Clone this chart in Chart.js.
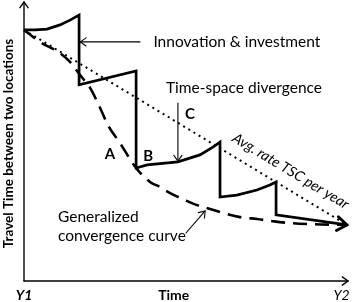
<!DOCTYPE html>
<html>
<head>
<meta charset="utf-8">
<script src="https://cdn.jsdelivr.net/npm/chart.js@4.4.1/dist/chart.umd.min.js"></script>
<style>
  html, body { margin: 0; padding: 0; background: #fff; }
  #wrap { width: 353px; height: 302px; }
</style>
</head>
<body>
<div id="wrap"><canvas id="tscChart" width="353" height="302"></canvas></div>
<script>
// time runs 0..100 from Y1 to Y2, travel time 0..100 (arbitrary units)
const tickLabels = ['Y1', 'Y2'];

// saw-tooth: travel time rises with congestion, drops after each innovation
const stepTime   = [0, 3.4, 7.1, 11.1, 14.2, 17.0, 17.0, 34.6, 34.6, 38.0, 47.5, 54.3, 58.3, 60.5, 60.5, 65.7, 71.9, 75.9, 77.8, 77.8, 99.7];
const stepTravel = [90.0, 90.0, 90.3, 91.8, 93.5, 95.3, 70.3, 75.3, 40.5, 41.6, 42.7, 45.2, 48.0, 49.8, 30.1, 30.8, 32.6, 34.4, 35.5, 23.7, 20.1];

// generalized convergence curve
const curveTime   = [0, 4.9, 11.1, 14.2, 17.3, 20.4, 23.5, 25.9, 29.6, 34.6, 38.9, 42.0, 45.1, 49.7, 53.4, 57.4, 61.4, 66.7, 71.9, 79.0, 88.3, 99.7];
const curveTravel = [90.0, 85.7, 81.7, 78.5, 73.8, 69.2, 62.0, 55.9, 49.5, 40.5, 35.5, 33.7, 31.5, 29.0, 27.2, 25.8, 24.4, 22.9, 22.2, 21.1, 20.4, 20.1];

// average rate of time-space convergence
const avgTime   = [0, 99.7];
const avgTravel = [90.0, 20.1];

const toPts = (xs, ys) => xs.map((v, i) => ({ x: v, y: ys[i] }));

function line(ctx, x1, y1, x2, y2) {
  ctx.beginPath(); ctx.moveTo(x1, y1); ctx.lineTo(x2, y2); ctx.stroke();
}
function chevron(ctx, x, y, ang, size) {
  ctx.beginPath();
  ctx.moveTo(x + size * Math.cos(ang + Math.PI - 0.62), y + size * Math.sin(ang + Math.PI - 0.62));
  ctx.lineTo(x, y);
  ctx.lineTo(x + size * Math.cos(ang + Math.PI + 0.62), y + size * Math.sin(ang + Math.PI + 0.62));
  ctx.stroke();
}

const FONT = 'Lato, "Open Sans", sans-serif';

const diagramPlugin = {
  id: 'diagram',
  afterDatasetsDraw(chart) {
    const { ctx, chartArea: a, scales } = chart;
    const X = v => scales.x.getPixelForValue(v);
    const Y = v => scales.y.getPixelForValue(v);
    ctx.save();
    ctx.strokeStyle = '#000';
    ctx.fillStyle = '#000';
    ctx.lineCap = 'round';
    ctx.lineJoin = 'miter';

    // axes with open arrow heads
    ctx.lineWidth = 1.4;
    line(ctx, a.left, a.bottom, a.left, a.top);
    line(ctx, a.left, a.bottom, a.right, a.bottom);
    chevron(ctx, a.left, a.top, -Math.PI / 2, 7);
    chevron(ctx, a.right, a.bottom, 0, 7);

    // arrow at the end of the saw-tooth line
    const n = stepTime.length;
    const ex = X(stepTime[n - 1]), ey = Y(stepTravel[n - 1]);
    const ang = Math.atan2(ey - Y(stepTravel[n - 2]), ex - X(stepTime[n - 2]));
    ctx.lineWidth = 2.8;
    chevron(ctx, ex, ey, ang, 12);

    // annotation arrows
    ctx.lineWidth = 1.1;
    line(ctx, X(35.8), Y(85.7), X(17.4), Y(85.7));
    chevron(ctx, X(17.4), Y(85.7), Math.PI, 7);
    line(ctx, X(47.5), Y(63.8), X(47.5), Y(43.0));
    chevron(ctx, X(47.5), Y(43.0), Math.PI / 2, 7);
    line(ctx, X(50.0), Y(17.2), X(55.9), Y(25.1));
    chevron(ctx, X(55.9), Y(25.1), Math.atan2(Y(25.1) - Y(17.2), X(55.9) - X(50.0)), 7);

    // labels
    ctx.textBaseline = 'middle';
    ctx.textAlign = 'center';
    ctx.font = '15.5px ' + FONT;
    ctx.fillText('Innovation & investment', X(65.7), Y(85.7));
    ctx.fillText('Time-space divergence', X(67.9), Y(69.2));
    ctx.textAlign = 'left';
    ctx.fillText('Generalized', X(10.5), Y(22.9));
    ctx.fillText('convergence curve', X(10.5), Y(16.3));

    ctx.textAlign = 'center';
    ctx.font = 'bold 15px ' + FONT;
    ctx.fillText('A', X(26.5), Y(45.5));
    ctx.fillText('B', X(38.3), Y(44.8));
    ctx.fillText('C', X(51.2), Y(59.9));

    // rotated label along the average-rate line
    const rot = Math.atan2(Y(avgTravel[1]) - Y(avgTravel[0]), X(avgTime[1]) - X(avgTime[0]));
    ctx.save();
    ctx.translate(X(82.3), Y(39.4));
    ctx.rotate(rot);
    ctx.font = 'italic 14.5px ' + FONT;
    ctx.fillText('Avg. rate TSC per year', 0, 0);
    ctx.restore();

    // axis titles and end labels
    ctx.save();
    ctx.translate(9, (a.top + a.bottom) / 2 + 2);
    ctx.rotate(-Math.PI / 2);
    ctx.font = 'bold 13.5px ' + FONT;
    ctx.fillText('Travel Time between two locations', 0, 0);
    ctx.restore();

    ctx.font = 'bold 14px ' + FONT;
    ctx.fillText('Time', X(46.2), a.bottom + 14);
    ctx.font = 'bold italic 14px ' + FONT;
    ctx.fillText(tickLabels[0], X(0), a.bottom + 14);
    ctx.font = 'italic 14px ' + FONT;
    ctx.fillText(tickLabels[1], X(98), a.bottom + 14);
    ctx.restore();
  }
};

const ctx = document.getElementById('tscChart').getContext('2d');
const tscChart = new Chart(ctx, {
  type: 'scatter',
  data: {
    datasets: [
      {
        label: 'Travel time',
        data: toPts(stepTime, stepTravel),
        showLine: true,
        borderColor: '#000',
        borderWidth: 2.7,
        pointRadius: 0,
        tension: 0,
        clip: false
      },
      {
        label: 'Generalized convergence curve',
        data: toPts(curveTime, curveTravel),
        showLine: true,
        borderColor: '#000',
        borderWidth: 2.6,
        borderDash: [14, 8],
        pointRadius: 0,
        cubicInterpolationMode: 'monotone',
        clip: false
      },
      {
        label: 'Avg. rate TSC per year',
        data: toPts(avgTime, avgTravel),
        showLine: true,
        borderColor: '#000',
        borderWidth: 2,
        borderDash: [2, 4],
        pointRadius: 0,
        clip: false
      }
    ]
  },
  options: {
    responsive: false,
    animation: false,
    layout: { padding: { left: 24, top: 2, right: 5, bottom: 21 } },
    plugins: { legend: { display: false }, tooltip: { enabled: false } },
    scales: {
      x: { type: 'linear', min: 0, max: 100, display: false },
      y: { type: 'linear', min: 0, max: 100, display: false }
    }
  },
  plugins: [diagramPlugin]
});
</script>
</body>
</html>
